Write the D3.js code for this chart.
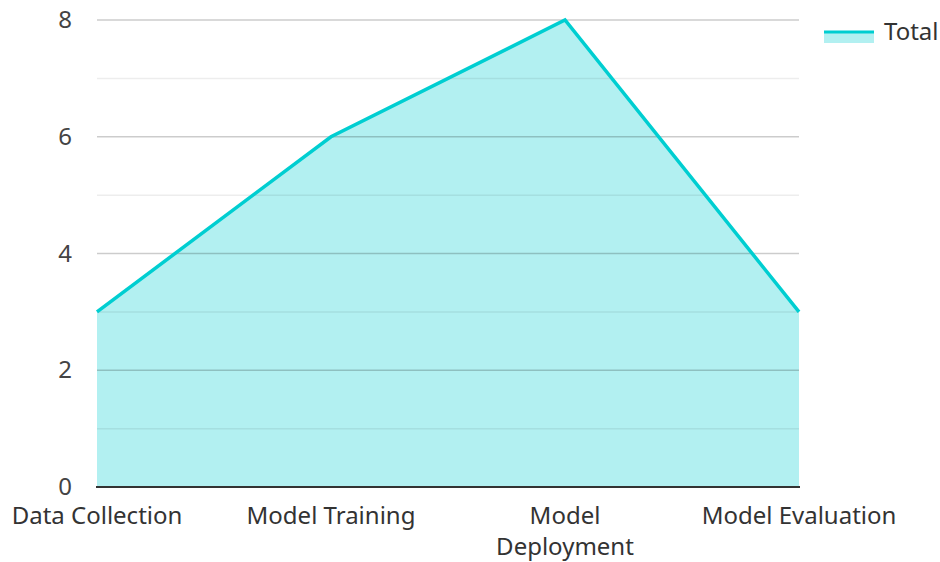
<!DOCTYPE html>
<html><head><meta charset="utf-8">
<script src="https://cdn.jsdelivr.net/npm/d3@7"></script>
<style>body{margin:0;background:#fff}svg{display:block;font-family:"Noto Sans",sans-serif}</style>
</head><body><svg id="c" width="940" height="562"></svg>
<script>
const categories = ["Data Collection","Model Training","Model Deployment","Model Evaluation"];
const categoryLines = [["Data Collection"],["Model Training"],["Model","Deployment"],["Model Evaluation"]];
const totals = [3,6,8,3];
const yTicks = [0,2,4,6,8];
const seriesName = "Total";

const svg = d3.select("#c");
const L=97,R=799,T=20,B=487;
const x = d3.scalePoint().domain(categories).range([L,R]).padding(0);
const y = d3.scaleLinear().domain([0,8]).range([B,T]);
const color="#00CED1";

const data = categories.map((c,i)=>({c,v:totals[i]}));
svg.append("path").datum(data)
  .attr("d",d3.area().x(d=>x(d.c)).y0(y(0)).y1(d=>y(d.v)))
  .attr("fill",color).attr("fill-opacity",0.3);

// gridlines
const g = svg.append("g");
d3.range(1,9).forEach(v=>{
  g.append("line").attr("x1",L).attr("x2",R).attr("y1",y(v)).attr("y2",y(v))
   .attr("stroke", v%2===0 ? "rgba(0,0,0,0.2)" : "rgba(0,0,0,0.07)").attr("stroke-width",1.5);
});

svg.append("path").datum(data)
  .attr("d",d3.line().x(d=>x(d.c)).y(d=>y(d.v)))
  .attr("fill","none").attr("stroke",color).attr("stroke-width",3.5).attr("stroke-linejoin","miter");

// axis
svg.append("line").attr("x1",L-1).attr("x2",R+1).attr("y1",B).attr("y2",B)
  .attr("stroke","#333").attr("stroke-width",2);

const yAxis = d3.axisLeft(y).tickValues(yTicks).tickSize(0).tickPadding(0);
const ya = svg.append("g").attr("transform",`translate(72,0)`).call(yAxis);
ya.select(".domain").remove();
ya.selectAll("text").attr("font-size",24).attr("fill","#444").attr("font-family","Noto Sans");

categories.forEach((c,i)=>{
  const t = svg.append("text").attr("x",x(c)).attr("y",524).attr("text-anchor","middle")
    .attr("font-size",24).attr("fill","#333");
  categoryLines[i].forEach((ln,j)=>{
    t.append("tspan").attr("x",x(c)).attr("dy", j===0?0:31).text(ln);
  });
});

// legend
svg.append("rect").attr("x",824).attr("y",31).attr("width",50).attr("height",12)
  .attr("fill",color).attr("fill-opacity",0.3);
svg.append("line").attr("x1",824).attr("x2",874).attr("y1",32).attr("y2",32)
  .attr("stroke",color).attr("stroke-width",3);
svg.append("text").attr("x",884).attr("y",40).attr("font-size",24).attr("fill","#333").text(seriesName);
</script></body></html>
